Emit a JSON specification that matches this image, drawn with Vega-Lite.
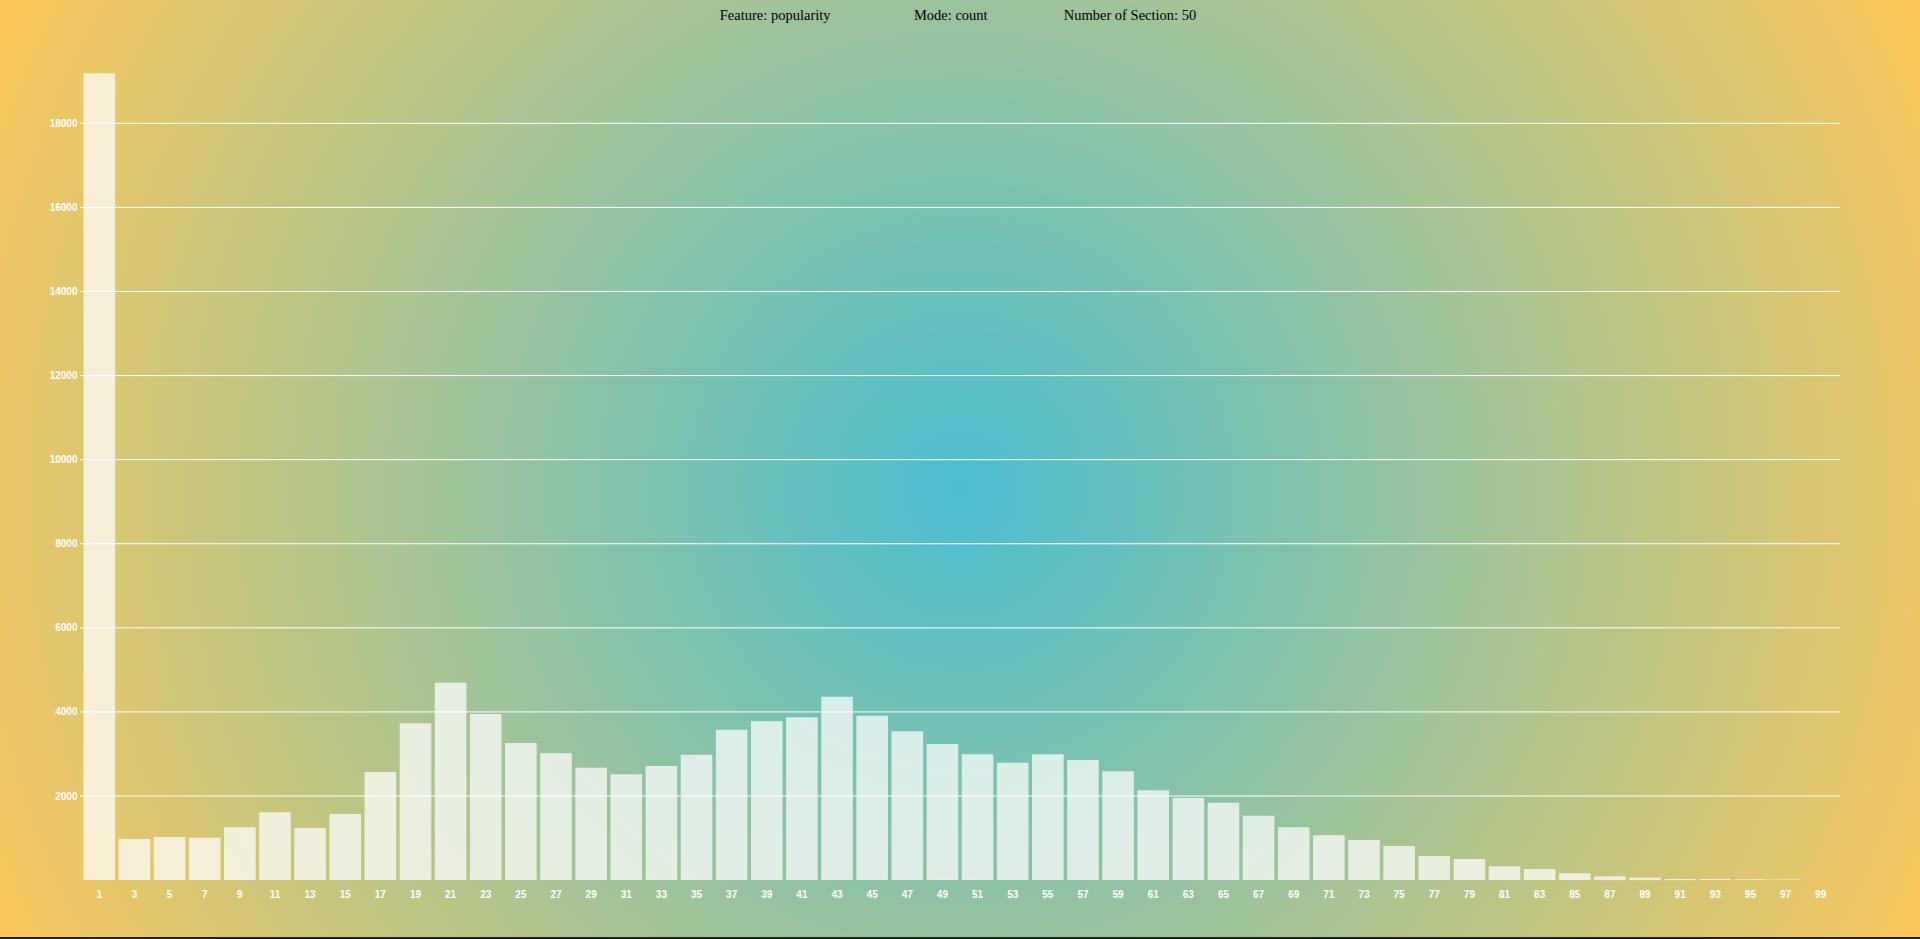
{
  "$schema": "https://vega.github.io/schema/vega-lite/v6.json",
  "width": 1920,
  "height": 937,
  "autosize": {"type": "none"},
  "padding": {"left": 0, "top": 0, "right": 0, "bottom": 2},
  "background": "#24211c",
  "title": {
    "text": "Feature:\u00a0popularity\u00a0\u00a0\u00a0\u00a0\u00a0\u00a0\u00a0\u00a0\u00a0\u00a0\u00a0\u00a0\u00a0\u00a0\u00a0\u00a0\u00a0\u00a0\u00a0\u00a0\u00a0\u00a0\u00a0Mode:\u00a0count\u00a0\u00a0\u00a0\u00a0\u00a0\u00a0\u00a0\u00a0\u00a0\u00a0\u00a0\u00a0\u00a0\u00a0\u00a0\u00a0\u00a0\u00a0\u00a0\u00a0\u00a0Number of Section:\u00a050",
    "font": "Liberation Serif",
    "fontSize": 14.5,
    "fontWeight": "normal",
    "color": "#000000",
    "anchor": "middle",
    "baseline": "alphabetic",
    "dx": -2,
    "offset": -34
  },
  "datasets": {
    "bars": [
      {"section": "1", "count": 19189},
      {"section": "3", "count": 978},
      {"section": "5", "count": 1025},
      {"section": "7", "count": 1009},
      {"section": "9", "count": 1256},
      {"section": "11", "count": 1612},
      {"section": "13", "count": 1239},
      {"section": "15", "count": 1572},
      {"section": "17", "count": 2571},
      {"section": "19", "count": 3730},
      {"section": "21", "count": 4696},
      {"section": "23", "count": 3951},
      {"section": "25", "count": 3261},
      {"section": "27", "count": 3016},
      {"section": "29", "count": 2674},
      {"section": "31", "count": 2517},
      {"section": "33", "count": 2714},
      {"section": "35", "count": 2983},
      {"section": "37", "count": 3578},
      {"section": "39", "count": 3777},
      {"section": "41", "count": 3872},
      {"section": "43", "count": 4363},
      {"section": "45", "count": 3911},
      {"section": "47", "count": 3539},
      {"section": "49", "count": 3237},
      {"section": "51", "count": 2992},
      {"section": "53", "count": 2790},
      {"section": "55", "count": 2992},
      {"section": "57", "count": 2857},
      {"section": "59", "count": 2588},
      {"section": "61", "count": 2136},
      {"section": "63", "count": 1953},
      {"section": "65", "count": 1841},
      {"section": "67", "count": 1532},
      {"section": "69", "count": 1256},
      {"section": "71", "count": 1066},
      {"section": "73", "count": 954},
      {"section": "75", "count": 811},
      {"section": "77", "count": 573},
      {"section": "79", "count": 502},
      {"section": "81", "count": 328},
      {"section": "83", "count": 264},
      {"section": "85", "count": 162},
      {"section": "87", "count": 90},
      {"section": "89", "count": 57},
      {"section": "91", "count": 26},
      {"section": "93", "count": 24},
      {"section": "95", "count": 18},
      {"section": "97", "count": 16},
      {"section": "99", "count": 2}
    ],
    "grid": [
      {"value": 2000},
      {"value": 4000},
      {"value": 6000},
      {"value": 8000},
      {"value": 10000},
      {"value": 12000},
      {"value": 14000},
      {"value": 16000},
      {"value": 18000}
    ]
  },
  "layer": [
    {
      "data": {"name": "bars"},
      "mark": {"type": "bar", "color": "#ffffff", "opacity": 0.72},
      "encoding": {
        "x": {
          "field": "section",
          "type": "nominal",
          "sort": null,
          "scale": {
            "domain": ["1", "3", "5", "7", "9", "11", "13", "15", "17", "19", "21", "23", "25", "27", "29", "31", "33", "35", "37", "39", "41", "43", "45", "47", "49", "51", "53", "55", "57", "59", "61", "63", "65", "67", "69", "71", "73", "75", "77", "79", "81", "83", "85", "87", "89", "91", "93", "95", "97", "99"],
            "range": [80, 1840],
            "paddingInner": 0.1,
            "paddingOuter": 0.1
          },
          "axis": {
            "orient": "bottom",
            "offset": -57,
            "title": null,
            "labelAngle": 0,
            "labelPadding": 9,
            "ticks": false,
            "tickSize": 0,
            "domain": false,
            "labelColor": "#ffffff",
            "labelFont": "Liberation Sans",
            "labelFontSize": 10,
            "labelFontWeight": "bold"
          }
        },
        "y": {
          "field": "count",
          "type": "quantitative",
          "scale": {"domain": [-1353, 20933], "nice": false, "zero": false},
          "axis": {
            "offset": -80,
            "title": null,
            "format": "d",
            "values": [2000, 4000, 6000, 8000, 10000, 12000, 14000, 16000, 18000],
            "grid": false,
            "ticks": false,
            "tickSize": 0,
            "domain": false,
            "labelPadding": 3,
            "labelColor": "#ffffff",
            "labelFont": "Liberation Sans",
            "labelFontSize": 10,
            "labelFontWeight": "bold"
          }
        },
        "y2": {"datum": 0}
      }
    },
    {
      "data": {"name": "grid"},
      "mark": {"type": "rule", "color": "#ffffff", "strokeWidth": 1},
      "encoding": {
        "x": {"datum": "1", "type": "nominal", "bandPosition": -0.1111},
        "x2": {"datum": "99", "bandPosition": 1.1111},
        "y": {"field": "value", "type": "quantitative"}
      }
    }
  ],
  "config": {
    "view": {
      "stroke": null,
      "fill": {
        "gradient": "radial",
        "x1": 0.5, "y1": 0.511, "r1": 0,
        "x2": 0.5, "y2": 0.511, "r2": 0.5615,
        "stops": [
          {"offset": 0, "color": "#4abfd1"},
          {"offset": 1, "color": "#fec85a"}
        ]
      }
    }
  }
}
